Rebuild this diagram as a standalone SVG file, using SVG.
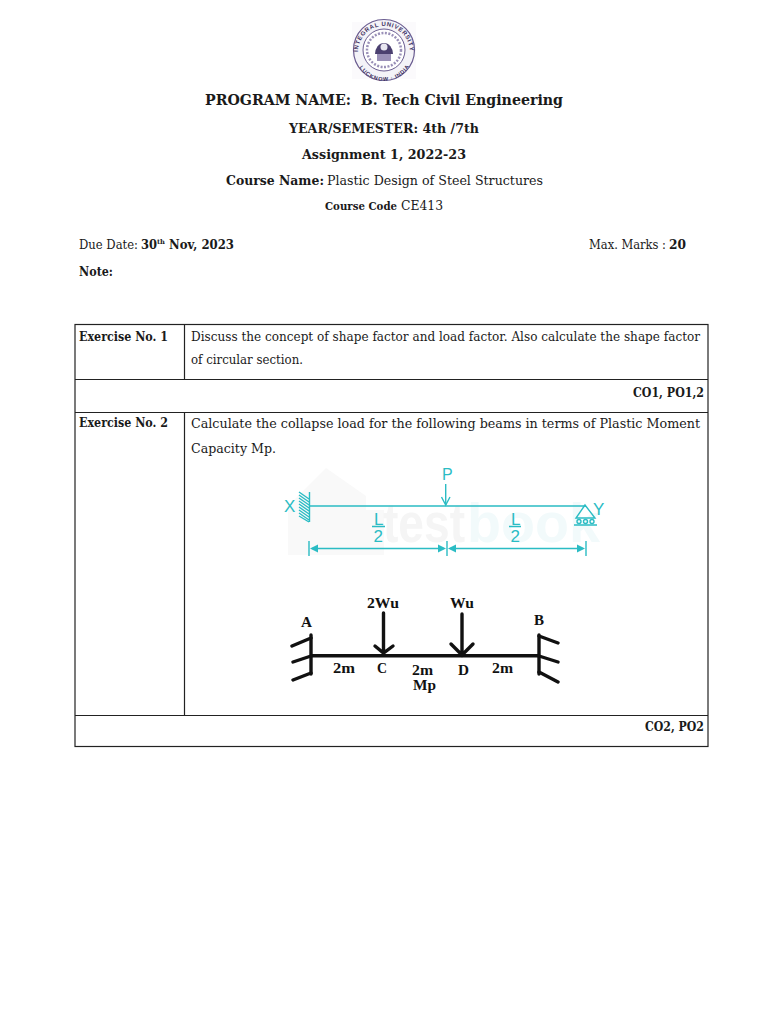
<svg xmlns="http://www.w3.org/2000/svg" width="768" height="1024" viewBox="0 0 768 1024">
<style>
text{font-family:"DejaVu Serif","Liberation Serif",serif;fill:#1a1a1a;white-space:pre}
.b{font-weight:bold}
.t{font-size:12px}
.h{font-size:13px;font-weight:bold}
.l{stroke:#222;stroke-width:1.2;fill:none}
.c{stroke:#2bbcc4;fill:none;stroke-width:1.4}
.cf{fill:#2bbcc4;stroke:none}
.ct{font-family:"Liberation Sans",sans-serif;fill:#2bbcc4}
.k{stroke:#111;fill:none;stroke-width:3.4;stroke-linecap:round}
.kt{font-family:"Liberation Serif",serif;font-weight:bold;fill:#111;font-size:15px}
.lg{font-family:"Liberation Sans",sans-serif;font-weight:bold;fill:#3b3060}
.wm{font-family:"Liberation Sans",sans-serif;font-weight:bold;font-size:56px}
</style>
<defs>
<path id="top" d="M358 52A26 26 0 0 1 410 52"/>
<path id="bot" d="M355 52A29 29 0 0 0 413 52"/>
</defs>
<rect width="768" height="1024" fill="#fff"/>
<g id="logo">
<rect x="352" y="22" width="64" height="57" fill="#fbfafc"/>
<circle cx="384" cy="50" r="30.5" fill="#f4f3f8" stroke="#6a5c90" stroke-width="1.2"/>
<circle cx="384" cy="50" r="21" fill="#fff" stroke="#6a5c90" stroke-width="1"/>
<circle cx="384" cy="50" r="17" fill="none" stroke="#9a90b8" stroke-width="2.5" stroke-dasharray="2 1.5"/>
<path d="M375 54a9 11 0 0 1 18 0z" fill="#4b4070"/>
<path d="M377 54v7h14v-7" fill="#9a90b8"/>
<circle cx="384" cy="47" r="3.500" fill="#e8e6f0"/>
<text font-size="6" class="lg"><textPath href="#top" textLength="80" lengthAdjust="spacing">INTEGRAL UNIVERSITY</textPath></text>
<text font-size="5.500" class="lg"><textPath href="#bot" startOffset="16" textLength="60" lengthAdjust="spacing">LUCKNOW · INDIA</textPath></text>
</g>
<g id="header">
<text x="205" y="105" class="b" font-size="15.500" textLength="358" lengthAdjust="spacingAndGlyphs">PROGRAM NAME:  B. Tech Civil Engineering</text>
<text x="289" y="133" class="h" textLength="190" lengthAdjust="spacingAndGlyphs">YEAR/SEMESTER: 4th /7th</text>
<text x="302" y="159" class="h" textLength="164" lengthAdjust="spacingAndGlyphs">Assignment 1, 2022-23</text>
<text x="226" y="185" class="b" font-size="13.500" textLength="98" lengthAdjust="spacingAndGlyphs">Course Name:</text>
<text x="327" y="185" font-size="13.500" textLength="216" lengthAdjust="spacingAndGlyphs">Plastic Design of Steel Structures</text>
<text x="325" y="210" font-size="10.500" class="b" textLength="72" lengthAdjust="spacingAndGlyphs">Course Code</text>
<text x="401" y="210" font-size="13" textLength="42" lengthAdjust="spacingAndGlyphs">CE413</text>
<text x="79" y="249" font-size="12" textLength="59" lengthAdjust="spacingAndGlyphs">Due Date:</text>
<text x="141" y="249" class="h" textLength="16" lengthAdjust="spacingAndGlyphs">30</text>
<text x="157" y="244" class="b" font-size="6.500" textLength="8" lengthAdjust="spacingAndGlyphs">th</text>
<text x="169" y="249" class="h" textLength="65" lengthAdjust="spacingAndGlyphs">Nov, 2023</text>
<text x="589" y="249" font-size="12" textLength="77" lengthAdjust="spacingAndGlyphs">Max. Marks :</text>
<text x="669" y="249" class="h" textLength="17" lengthAdjust="spacingAndGlyphs">20</text>
<text x="79" y="276" class="b" font-size="12" textLength="34" lengthAdjust="spacingAndGlyphs">Note:</text>
</g>
<g id="watermark">
<path d="M288 506L326 468L366 496L366 510L384 510V555H288Z" fill="#f9f9f9"/>
<text x="383" y="542" class="wm" style="fill:#f5f5f5" textLength="82" lengthAdjust="spacingAndGlyphs">test</text>
<text x="467" y="542" class="wm" style="fill:#f2fafb" textLength="133" lengthAdjust="spacingAndGlyphs">book</text>
</g>
<g id="table">
<rect x="75" y="324.500" width="633" height="422" class="l"/>
<path class="l" d="M184.500 325V379M75 379.500H708M75 412.500H708M184.500 413V715M75 715.500H708"/>
<text x="79" y="341" class="b" font-size="12" textLength="89" lengthAdjust="spacingAndGlyphs">Exercise No. 1</text>
<text x="191" y="341" class="t" textLength="509" lengthAdjust="spacingAndGlyphs">Discuss the concept of shape factor and load factor. Also calculate the shape factor</text>
<text x="191" y="364" class="t" textLength="112" lengthAdjust="spacingAndGlyphs">of circular section.</text>
<text x="633" y="397" class="b" font-size="12" textLength="71" lengthAdjust="spacingAndGlyphs">CO1, PO1,2</text>
<text x="79" y="427" class="b" font-size="12" textLength="89" lengthAdjust="spacingAndGlyphs">Exercise No. 2</text>
<text x="191" y="428" font-size="13" textLength="509" lengthAdjust="spacingAndGlyphs">Calculate the collapse load for the following beams in terms of Plastic Moment</text>
<text x="191" y="453" font-size="13" textLength="85" lengthAdjust="spacingAndGlyphs">Capacity Mp.</text>
<text x="645" y="731" class="b" font-size="12" textLength="59" lengthAdjust="spacingAndGlyphs">CO2, PO2</text>
</g>
<g id="beam-1">
<path class="c" d="M310 506H585M445.700 484V505M309 541V556M447 541V556M586 541V556M312 548.500H444M450 548.500H583"/>
<path class="c" d="M441.500 497L445.700 505L450 497" stroke-width="1"/>
<path class="c" stroke-width="1" d="M309.500 492V522M299 492L309 499M299 495L309 502M299 498L309 505M299 501L309 508M299 504L309 511M299 507L309 514M299 510L309 517M299 513L309 520M299 516L309 522"/>
<path class="c" d="M585 505L576 518H595ZM574 525H597"/>
<circle class="c" cx="579" cy="521.500" r="2" stroke-width="1"/><circle class="c" cx="585.500" cy="521.500" r="2" stroke-width="1"/><circle class="c" cx="592" cy="521.500" r="2" stroke-width="1"/>
<path class="cf" d="M310 548.500l8-4v8zM446 548.500l-8-4v8zM448 548.500l8-4v8zM585 548.500l-8-4v8z"/>
<path class="c" d="M372 526.500H385M509 526.500H521"/>
<text x="284" y="512" class="ct" font-size="17">X</text>
<text x="442" y="480" class="ct" font-size="16">P</text>
<text x="593" y="515" class="ct" font-size="17">Y</text>
<text x="374" y="524.500" class="ct" font-size="17">L</text>
<text x="511" y="524.500" class="ct" font-size="17">L</text>
<text x="373.500" y="542" class="ct" font-size="17">2</text>
<text x="510.500" y="542" class="ct" font-size="17">2</text>
</g>
<g id="beam-2">
<path d="M312 655.700H540" stroke="#111" stroke-width="3.600" fill="none"/>
<path class="k" stroke-linecap="butt" d="M311 635V674M539 635V674"/>
<path class="k" d="M311 638L292 646M311 656L293 662M311 673L293 680M539 636L558 643M539 656L558 662M539 672L558 682"/>
<path class="k" stroke-width="2.800" d="M383.500 613V653M375 646L383.500 653L393 646M462 614V655M451 644L462 655L473 644"/>
<text class="kt" x="367" y="608" textLength="32" lengthAdjust="spacingAndGlyphs">2Wu</text>
<text class="kt" x="450" y="608" textLength="24" lengthAdjust="spacingAndGlyphs">Wu</text>
<text class="kt" x="301" y="627" textLength="11" lengthAdjust="spacingAndGlyphs">A</text>
<text class="kt" x="534" y="625" textLength="10" lengthAdjust="spacingAndGlyphs">B</text>
<text class="kt" x="333" y="673" textLength="22" lengthAdjust="spacingAndGlyphs">2m</text>
<text class="kt" x="377" y="673" textLength="10" lengthAdjust="spacingAndGlyphs">C</text>
<text class="kt" x="412" y="675" textLength="21" lengthAdjust="spacingAndGlyphs">2m</text>
<text class="kt" x="458" y="675" textLength="11" lengthAdjust="spacingAndGlyphs">D</text>
<text class="kt" x="492" y="673" textLength="21" lengthAdjust="spacingAndGlyphs">2m</text>
<text class="kt" x="413" y="690" textLength="23" lengthAdjust="spacingAndGlyphs">Mp</text>
</g>
</svg>
